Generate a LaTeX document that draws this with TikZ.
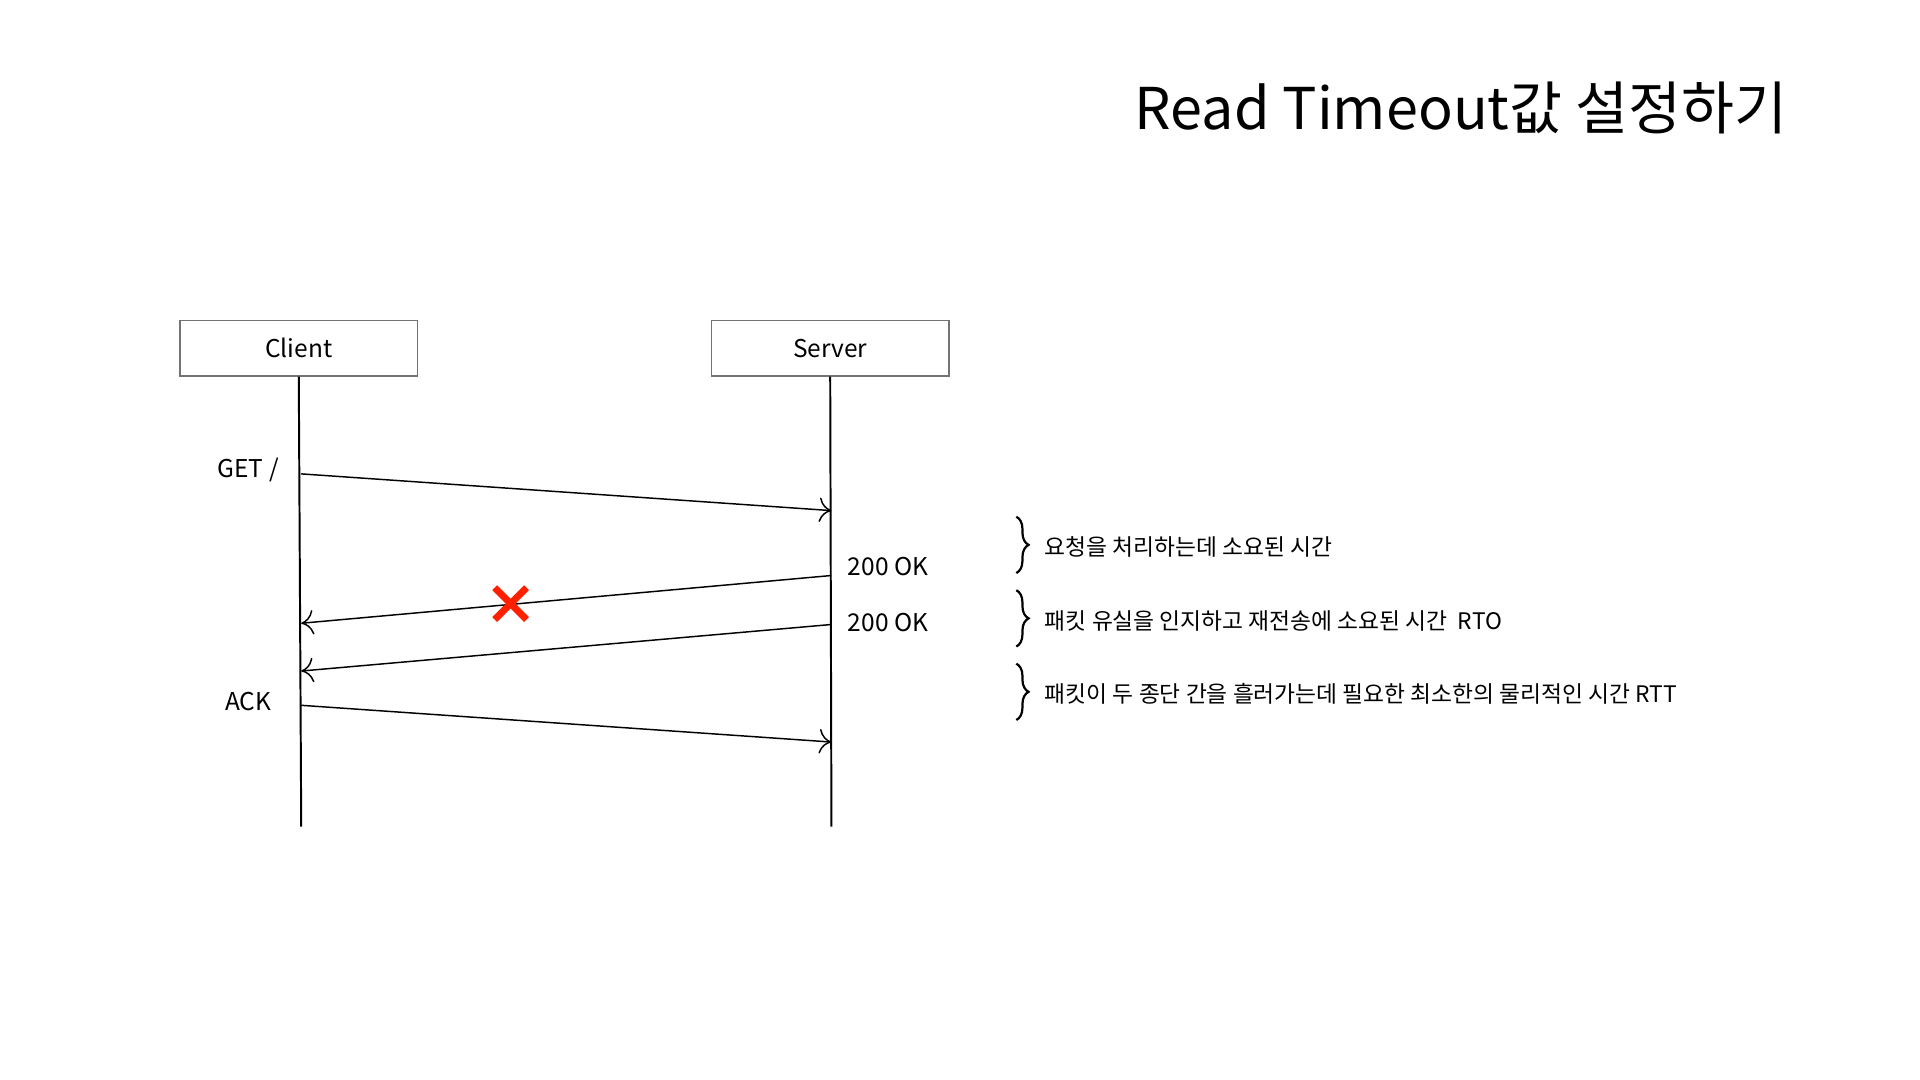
\documentclass[tikz,border=0pt]{standalone}
\usepackage{fontspec}
\setmainfont{Noto Sans CJK KR}
\usetikzlibrary{decorations.pathreplacing,arrows.meta,calc}
\begin{document}
\begin{tikzpicture}[x=0.5pt,y=-0.5pt,
  actor/.style={draw=black!55,line width=0.5pt,minimum width=97pt,minimum height=22.5pt,inner sep=0pt,font=\fontsize{10}{12}\selectfont},
  life/.style={line width=0.8pt},
  msg/.style={line width=0.6pt,-{To[length=5pt,width=10pt]}},
  lbl/.style={font=\fontsize{10}{12}\selectfont,inner sep=0pt},
  note/.style={font=\fontsize{9.3}{11}\selectfont,inner sep=0pt,anchor=west},
  br/.style={decorate,decoration={brace,amplitude=5pt},line width=0.9pt}]
\useasboundingbox (0,0) rectangle (1568,882);
\node[anchor=east,inner sep=0pt,font=\fontsize{23.5}{28}\selectfont] (title) at (1460,88) {Read Timeout값 설정하기};
\node[actor] (client) at (244,284.5) {Client};
\node[actor] (server) at (678,284.5) {Server};
\coordinate (cb) at (246,675);
\coordinate (sb) at (679,675);
\draw[life] (client.south) -- (cb);
\draw[life] (server.south) -- (sb);
\coordinate (c1) at (246,387); \coordinate (s1) at (679,417);
\coordinate (s2) at (679,470); \coordinate (c2) at (246,509);
\coordinate (s3) at (679,510); \coordinate (c3) at (246,548);
\coordinate (c4) at (246,576); \coordinate (s4) at (679,606);
\draw[msg] (c1) -- (s1);
\draw[msg] (s2) -- (c2);
\draw[msg] (s3) -- (c3);
\draw[msg] (c4) -- (s4);
\node[lbl,anchor=east] (get) at (228,384) {GET /};
\node[lbl,anchor=west] (ok1) at (692,463) {200 OK};
\node[lbl,anchor=west] (ok2) at (692,508) {200 OK};
\node[lbl,anchor=east] (ack) at (222,573) {ACK};
\node[inner sep=0pt] (x) at (417,493) {};
\draw[red!75!orange,line width=2.8pt] ($(x)+(-13,-13)$) -- ($(x)+(13,13)$) ($(x)+(-13,13)$) -- ($(x)+(13,-13)$);
\coordinate (b1t) at (830,422); \coordinate (b1b) at (830,468);
\coordinate (b2t) at (830,482); \coordinate (b2b) at (830,528);
\coordinate (b3t) at (830,542); \coordinate (b3b) at (830,588);
\draw[br] (b1t) -- (b1b);
\draw[br] (b2t) -- (b2b);
\draw[br] (b3t) -- (b3b);
\node[note] (n1) at (853,447) {요청을 처리하는데 소요된 시간};
\node[note] (n2) at (853,507) {패킷 유실을 인지하고 재전송에 소요된 시간\ \ RTO};
\node[note] (n3) at (853,567) {패킷이 두 종단 간을 흘러가는데 필요한 최소한의 물리적인 시간 RTT};
\end{tikzpicture}
\end{document}
